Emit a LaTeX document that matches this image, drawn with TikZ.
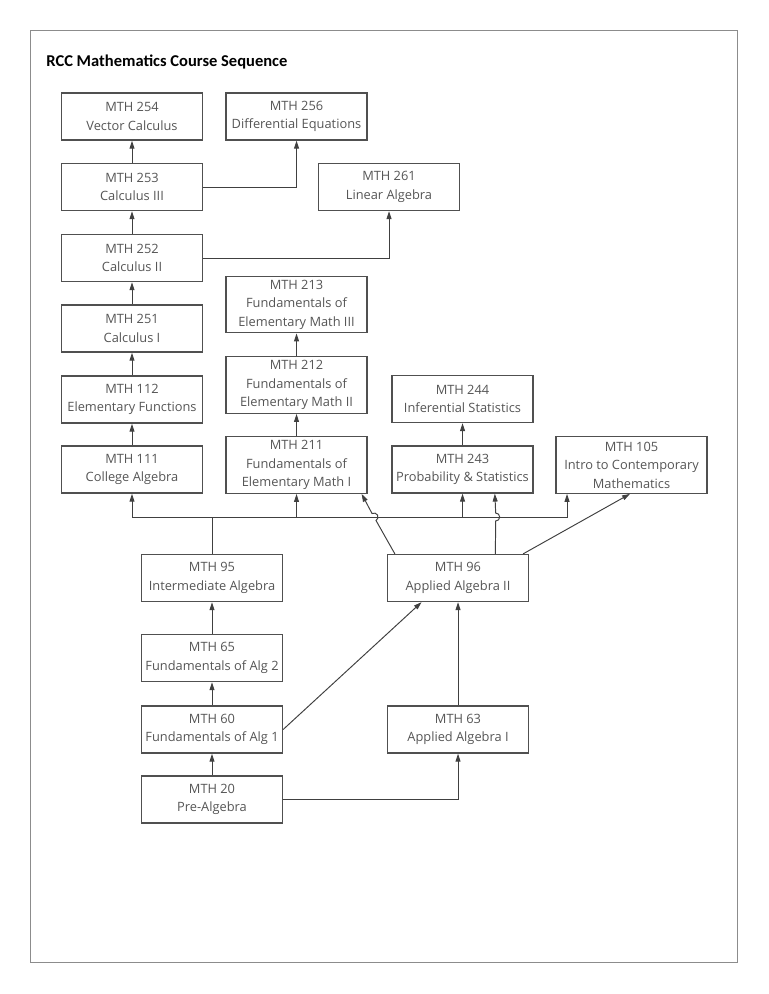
\documentclass[tikz,border=0pt]{standalone}
\usepackage{fontspec}
\setmainfont{Open Sans}
\newfontfamily\titlefont{Carlito}
\usetikzlibrary{arrows.meta,positioning}
\definecolor{boxLine}{HTML}{505050}
\definecolor{boxText}{HTML}{555555}
\definecolor{frameGray}{HTML}{8C8C8C}

\begin{document}
\begin{tikzpicture}[x=0.02cm, y=-0.02cm,
  box/.style={draw=boxLine, line width=0.75pt, font=\fontsize{7.3}{10.5}\selectfont,
              text=boxText, minimum width=2.82cm, minimum height=0.94cm,
              align=center, inner sep=1pt},
  tall/.style={box, minimum height=1.13cm},
  arr/.style={-{Triangle[length=4.5pt,width=2.8pt]}, black!75, line width=0.55pt},
  wire/.style={black!75, line width=0.55pt}
]
\useasboundingbox (0,0) rectangle (768,994);
\draw[frameGray, line width=0.6pt] (30.7,30.7) rectangle (737.3,962.7);
\node[anchor=base west, inner sep=0pt, font=\titlefont\bfseries\fontsize{9.4}{11}\selectfont] (title) at (46,66) {RCC Mathematics Course Sequence};

% upper courses
\node[box]  (m254) at (132,116.5)  {MTH 254\\Vector Calculus};
\node[box]  (m256) at (296.5,116.5) {MTH 256\\Differential Equations};
\node[box]  (m253) at (132,187)    {MTH 253\\Calculus III};
\node[box]  (m261) at (389,187)    {MTH 261\\Linear Algebra};
\node[box]  (m252) at (132,258)    {MTH 252\\Calculus II};
\node[box]  (m251) at (132,328.5)  {MTH 251\\Calculus I};
\node[tall] (m213) at (296.5,304.5) {MTH 213\\Fundamentals of\\Elementary Math III};
\node[box]  (m112) at (132,399.5)  {MTH 112\\Elementary Functions};
\node[tall] (m212) at (296.5,385)  {MTH 212\\Fundamentals of\\Elementary Math II};
\node[box]  (m244) at (462.5,399)  {MTH 244\\Inferential Statistics};
\node[box]  (m111) at (132,469.5)  {MTH 111\\College Algebra};
\node[tall] (m211) at (296.5,465)  {MTH 211\\Fundamentals of\\Elementary Math I};
\node[box]  (m243) at (462.5,469.5) {MTH 243\\Probability \& Statistics};
\node[tall, minimum width=3.02cm] (m105) at (631.5,465) {MTH 105\\Intro to Contemporary\\Mathematics};

% lower courses
\node[box] (m95) at (212,578)   {MTH 95\\Intermediate Algebra};
\node[box] (m96) at (458,578)   {MTH 96\\Applied Algebra II};
\node[box] (m65) at (212,658)   {MTH 65\\Fundamentals of Alg 2};
\node[box] (m60) at (212,729.5) {MTH 60\\Fundamentals of Alg 1};
\node[box] (m63) at (458,729.5) {MTH 63\\Applied Algebra I};
\node[box] (m20) at (212,799.5) {MTH 20\\Pre-Algebra};

\coordinate (bus) at (212,517);

\draw[arr] (m253) -- (m254);
\draw[arr] (m253.east) -| (m256.south);
\draw[arr] (m252) -- (m253);
\draw[arr] (m252.east) -| (m261.south);
\draw[arr] (m251) -- (m252);
\draw[arr] (m112) -- (m251);
\draw[arr] (m111) -- (m112);
\draw[arr] (m212) -- (m213);
\draw[arr] (m211) -- (m212);
\draw[arr] (m243) -- (m244);

\draw[wire] (m95) -- (bus);
\draw[arr] (bus) -| (m111.south);
\draw[arr] (bus) -| (m211.south);
\draw[arr] (bus) -| (m243.south);
\draw[arr] (bus) -| ([xshift=0.234cm]m105.south west);

\draw[arr] ([xshift=0.16cm]m96.north west) -- (376,520.5)
  arc[start angle=-60.5, end angle=119.5, radius=0.08cm] -- ([xshift=-0.12cm]m211.south east);
\draw[arr] ([xshift=2.17cm]m96.north west) -- (495.7,521)
  arc[start angle=-90, end angle=90, radius=0.08cm] -- ([xshift=2.07cm]m243.south west);
\draw[arr] ([xshift=-0.12cm]m96.north east) -- ([xshift=-0.03cm]m105.south);

\draw[arr] (m65) -- (m95);
\draw[arr] (m60) -- (m65);
\draw[arr] (m20) -- (m60);
\draw[arr] (m60.east) -- ([xshift=0.694cm]m96.south west);
\draw[arr] (m63) -- (m96);
\draw[arr] (m20.east) -| (m63.south);
\end{tikzpicture}
\end{document}
